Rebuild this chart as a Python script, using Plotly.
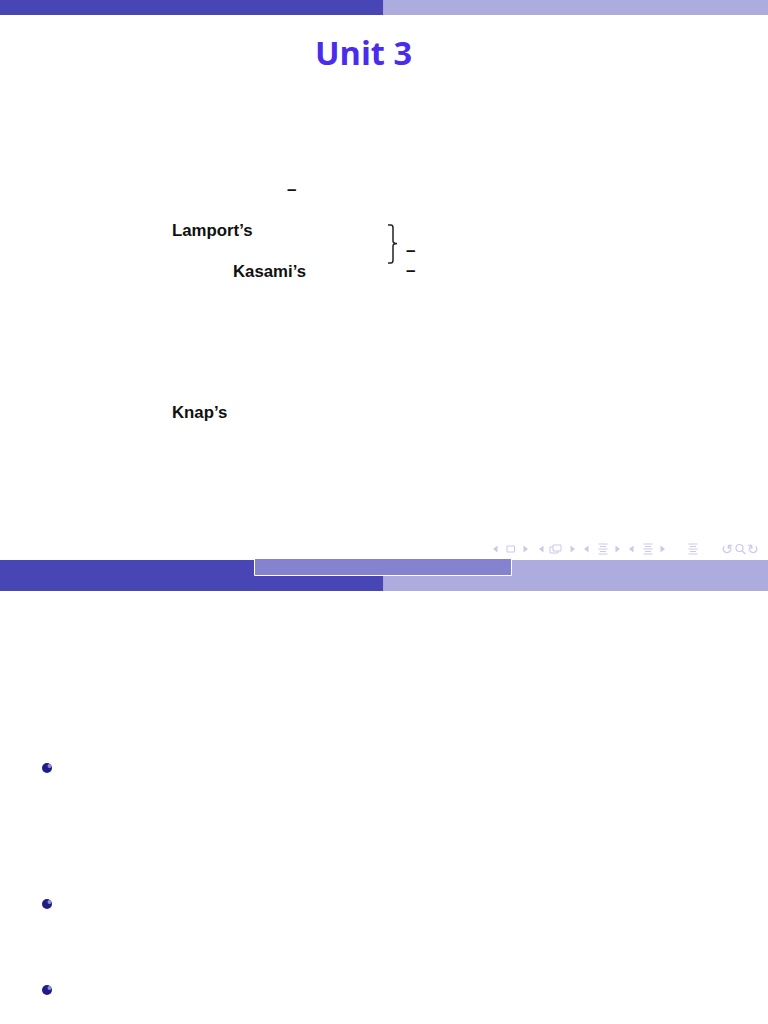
import plotly.graph_objects as go

TITLE = "Unit 3"
LABELS = ["Lamport’s", "Kasami’s", "Knap’s"]
LABEL_X = [171, 232, 171]
LABEL_Y = [230.5, 271, 412.5]
DASH_X = [291.5, 410.5, 410.5]
DASH_Y = [189, 250, 270]
BULLET_X = [47, 47, 47]
BULLET_Y = [768, 904, 990]
NAV_LEFT_X = [496, 542, 587, 632]
NAV_RIGHT_X = [525, 572, 617, 662]
NAV_Y = 549
NAV_TEXT = [("↺", 727), ("↻", 753)]
NAV_LINE_CENTRES = [603, 648, 693]

DARK = "#4845B5"
LIGHT = "#ADACDF"
MID = "#8583D0"
NAV = "#CBC9EC"

fig = go.Figure()


def rect(x0, y0, x1, y1, fill, line=None):
    fig.add_shape(type="rect", x0=x0, y0=y0, x1=x1, y1=y1, fillcolor=fill,
                  line=dict(width=0) if line is None else dict(color=line, width=1),
                  layer="below")


def seg(x0, y0, x1, y1, color, width=1):
    fig.add_shape(type="line", x0=x0, y0=y0, x1=x1, y1=y1, line=dict(color=color, width=width))


rect(0, 0, 383.5, 15, DARK)
rect(383.5, 0, 768, 15, LIGHT)
rect(0, 560, 383.5, 591, DARK)
rect(383.5, 560, 768, 591, LIGHT)
rect(255, 559, 511, 575, MID)
seg(254.5, 560, 254.5, 575.5, "#FFFFFF")
seg(254.5, 575.5, 511.5, 575.5, "#FFFFFF")
seg(511.5, 560, 511.5, 575.5, "#FFFFFF")

# brace
fig.add_shape(type="path",
              path="M 388 225 L 391 225 Q 393 225 393 228 L 393 241 Q 393 243.5 397 243.5 "
                   "Q 393 243.5 393 246 L 393 260 Q 393 263 391 263 L 388 263",
              line=dict(color="#222222", width=1.5))

# navigation glyphs
fig.add_trace(go.Scatter(x=NAV_LEFT_X, y=[NAV_Y] * 4, mode="markers", hoverinfo="skip",
                         marker=dict(symbol="triangle-left", size=6, color=NAV)))
fig.add_trace(go.Scatter(x=NAV_RIGHT_X, y=[NAV_Y] * 4, mode="markers", hoverinfo="skip",
                         marker=dict(symbol="triangle-right", size=6, color=NAV)))
rect(507, 546, 514.5, 552, "rgba(0,0,0,0)", NAV)
rect(550, 547, 558, 553, "rgba(0,0,0,0)", NAV)
rect(553, 545, 561, 551, "#FFFFFF", NAV)
for cx in NAV_LINE_CENTRES:
    for i, dy in enumerate([-5, -2.5, 0, 2.5, 5]):
        hw = 4.5 if i % 2 == 0 else 3
        seg(cx - hw, NAV_Y + dy, cx + hw, NAV_Y + dy, NAV)
# magnifier
fig.add_shape(type="circle", x0=736, x1=743, y0=544.5, y1=551.5, line=dict(color=NAV, width=1.2))
seg(742, 551, 745.5, 554, NAV, 1.4)

# bullets
fig.add_trace(go.Scatter(x=BULLET_X, y=BULLET_Y, mode="markers", hoverinfo="skip",
                         marker=dict(symbol="circle", size=10, color="#1E1E84")))
fig.add_trace(go.Scatter(x=[v + 2.5 for v in BULLET_X], y=[v - 2 for v in BULLET_Y],
                         mode="markers", hoverinfo="skip",
                         marker=dict(symbol="circle", size=4, color="#8E8ED6")))

anns = [dict(x=363, y=52, text="<b>" + TITLE + "</b>", xanchor="center", yanchor="middle",
             font=dict(family="Open Sans", size=32.5, color="#4A2CEB"))]
for t, x, y in zip(LABELS, LABEL_X, LABEL_Y):
    anns.append(dict(x=x, y=y, text="<b>" + t + "</b>", xanchor="left", yanchor="middle",
                     font=dict(family="Liberation Sans", size=16.8, color="#111111")))
for x, y in zip(DASH_X, DASH_Y):
    anns.append(dict(x=x, y=y, text="<b>–</b>", xanchor="center", yanchor="middle",
                     font=dict(family="Liberation Sans", size=17, color="#111111")))
for t, x in NAV_TEXT:
    anns.append(dict(x=x, y=NAV_Y, text=t, xanchor="center", yanchor="middle",
                     font=dict(family="DejaVu Sans", size=14, color=NAV)))
for a in anns:
    a.update(showarrow=False, xref="x", yref="y", borderpad=0)

fig.update_layout(
    width=768, height=1024, margin=dict(l=0, r=0, t=0, b=0),
    paper_bgcolor="#FFFFFF", plot_bgcolor="#FFFFFF", showlegend=False,
    annotations=anns,
    xaxis=dict(range=[0, 768], visible=False, fixedrange=True),
    yaxis=dict(range=[1024, 0], visible=False, fixedrange=True),
)
fig.write_html("out.html", config=dict(displayModeBar=False),
               post_script="document.body.style.margin='0';")
